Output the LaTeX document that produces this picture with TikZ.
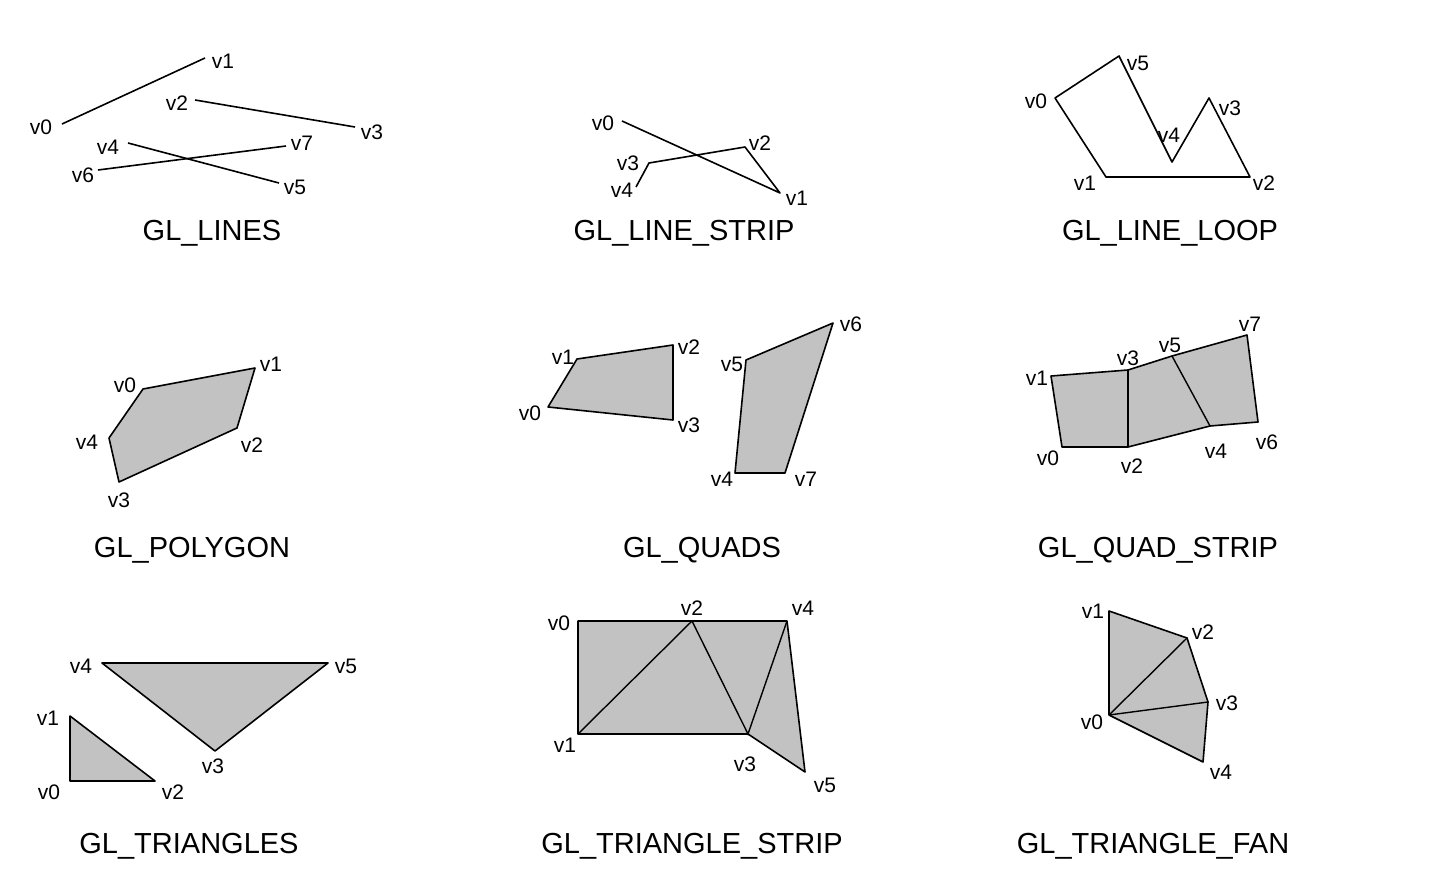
\documentclass[tikz,border=0pt]{standalone}
\usepackage{fontspec}
\setmainfont{Liberation Sans}
\begin{document}
\begin{tikzpicture}[x=1pt,y=-1pt,
  vlabel/.style={inner sep=0pt,font=\fontsize{21}{21}\selectfont},
  title/.style={inner sep=0pt,anchor=base,font=\fontsize{29}{29}\selectfont},
  edge/.style={draw=black,line width=1.6pt,line join=round},
  face/.style={fill=black!24,draw=black,line width=1.6pt,line join=round},
  inner/.style={draw=black,line width=1.4pt}]
\fill[white] (0,0) rectangle (1440,877);
\useasboundingbox (0,0) rectangle (1440,877);

% ---------- GL_LINES ----------
\coordinate (A0) at (62,124);  \coordinate (A1) at (205,58);
\coordinate (A2) at (195,100); \coordinate (A3) at (355,127);
\coordinate (A4) at (128,143); \coordinate (A5) at (279,183);
\coordinate (A6) at (98,170);  \coordinate (A7) at (286,146);
\draw[edge] (A0) -- (A1); \draw[edge] (A2) -- (A3);
\draw[edge] (A4) -- (A5); \draw[edge] (A6) -- (A7);
\node[vlabel] (lA0) at (41,127) {v0};
\node[vlabel] (lA1) at (223,61) {v1};
\node[vlabel] (lA2) at (177,103) {v2};
\node[vlabel] (lA3) at (372,132) {v3};
\node[vlabel] (lA4) at (108,147) {v4};
\node[vlabel] (lA5) at (295,187) {v5};
\node[vlabel] (lA6) at (83,175) {v6};
\node[vlabel] (lA7) at (302,143) {v7};
\node[title] (tA) at (212,241) {GL\_LINES};

% ---------- GL_LINE_STRIP ----------
\coordinate (B0) at (622,121); \coordinate (B1) at (780,193);
\coordinate (B2) at (745,147); \coordinate (B3) at (649,163);
\coordinate (B4) at (636,187);
\draw[edge] (B0) -- (B1) -- (B2) -- (B3) -- (B4);
\node[vlabel] (lB0) at (603,123) {v0};
\node[vlabel] (lB1) at (797,198) {v1};
\node[vlabel] (lB2) at (760,143) {v2};
\node[vlabel] (lB3) at (628,163) {v3};
\node[vlabel] (lB4) at (622,190) {v4};
\node[title] (tB) at (684,241) {GL\_LINE\_STRIP};

% ---------- GL_LINE_LOOP ----------
\coordinate (C0) at (1055,98);  \coordinate (C1) at (1106,177);
\coordinate (C2) at (1250,177); \coordinate (C3) at (1209,98);
\coordinate (C4) at (1172,162); \coordinate (C5) at (1119,56);
\draw[edge] (C0) -- (C1) -- (C2) -- (C3) -- (C4) -- (C5) -- cycle;
\node[vlabel] (lC0) at (1036,101) {v0};
\node[vlabel] (lC1) at (1085,183) {v1};
\node[vlabel] (lC2) at (1264,183) {v2};
\node[vlabel] (lC3) at (1230,108) {v3};
\node[vlabel] (lC4) at (1169,135) {v4};
\node[vlabel] (lC5) at (1138,63) {v5};
\node[title] (tC) at (1170,241) {GL\_LINE\_LOOP};

% ---------- GL_POLYGON ----------
\coordinate (D0) at (143,389); \coordinate (D1) at (255,368);
\coordinate (D2) at (237,428); \coordinate (D3) at (119,482);
\coordinate (D4) at (109,438);
\path[face] (D0) -- (D1) -- (D2) -- (D3) -- (D4) -- cycle;
\node[vlabel] (lD0) at (125,385) {v0};
\node[vlabel] (lD1) at (271,364) {v1};
\node[vlabel] (lD2) at (252,445) {v2};
\node[vlabel] (lD3) at (119,500) {v3};
\node[vlabel] (lD4) at (87,442) {v4};
\node[title] (tD) at (192,557) {GL\_POLYGON};

% ---------- GL_QUADS ----------
\coordinate (E0) at (548,407); \coordinate (E1) at (577,359);
\coordinate (E2) at (673,345); \coordinate (E3) at (673,420);
\coordinate (E4) at (735,473); \coordinate (E5) at (746,360);
\coordinate (E6) at (833,323); \coordinate (E7) at (785,473);
\path[face] (E0) -- (E1) -- (E2) -- (E3) -- cycle;
\path[face] (E4) -- (E5) -- (E6) -- (E7) -- cycle;
\node[vlabel] (lE0) at (530,413) {v0};
\node[vlabel] (lE1) at (563,357) {v1};
\node[vlabel] (lE2) at (689,347) {v2};
\node[vlabel] (lE3) at (689,425) {v3};
\node[vlabel] (lE4) at (722,479) {v4};
\node[vlabel] (lE5) at (732,364) {v5};
\node[vlabel] (lE6) at (851,324) {v6};
\node[vlabel] (lE7) at (806,479) {v7};
\node[title] (tE) at (702,557) {GL\_QUADS};

% ---------- GL_QUAD_STRIP ----------
\coordinate (F0) at (1062,447); \coordinate (F1) at (1051,376);
\coordinate (F2) at (1128,447); \coordinate (F3) at (1128,370);
\coordinate (F4) at (1210,426); \coordinate (F5) at (1172,356);
\coordinate (F6) at (1258,422); \coordinate (F7) at (1247,335);
\path[face] (F0) -- (F1) -- (F3) -- (F5) -- (F7) -- (F6) -- (F4) -- (F2) -- cycle;
\draw[inner] (F2) -- (F3);
\draw[inner] (F4) -- (F5);
\node[vlabel] (lF0) at (1048,458) {v0};
\node[vlabel] (lF1) at (1037,378) {v1};
\node[vlabel] (lF2) at (1132,466) {v2};
\node[vlabel] (lF3) at (1128,358) {v3};
\node[vlabel] (lF4) at (1216,451) {v4};
\node[vlabel] (lF5) at (1170,345) {v5};
\node[vlabel] (lF6) at (1267,442) {v6};
\node[vlabel] (lF7) at (1250,324) {v7};
\node[title] (tF) at (1158,557) {GL\_QUAD\_STRIP};

% ---------- GL_TRIANGLES ----------
\coordinate (G0) at (70,781);  \coordinate (G1) at (70,716);
\coordinate (G2) at (155,781); \coordinate (G3) at (215,751);
\coordinate (G4) at (102,663); \coordinate (G5) at (328,663);
\path[face] (G0) -- (G1) -- (G2) -- cycle;
\path[face] (G3) -- (G4) -- (G5) -- cycle;
\node[vlabel] (lG0) at (49,792) {v0};
\node[vlabel] (lG1) at (48,718) {v1};
\node[vlabel] (lG2) at (173,792) {v2};
\node[vlabel] (lG3) at (213,766) {v3};
\node[vlabel] (lG4) at (81,666) {v4};
\node[vlabel] (lG5) at (346,666) {v5};
\node[title] (tG) at (189,853) {GL\_TRIANGLES};

% ---------- GL_TRIANGLE_STRIP ----------
\coordinate (H0) at (578,621); \coordinate (H1) at (578,734);
\coordinate (H2) at (692,621); \coordinate (H3) at (748,734);
\coordinate (H4) at (787,621); \coordinate (H5) at (805,772);
\path[face] (H0) -- (H2) -- (H4) -- (H5) -- (H3) -- (H1) -- cycle;
\draw[inner] (H1) -- (H2) -- (H3) -- (H4);
\node[vlabel] (lH0) at (559,623) {v0};
\node[vlabel] (lH1) at (565,745) {v1};
\node[vlabel] (lH2) at (692,608) {v2};
\node[vlabel] (lH3) at (745,764) {v3};
\node[vlabel] (lH4) at (803,608) {v4};
\node[vlabel] (lH5) at (825,785) {v5};
\node[title] (tH) at (692,853) {GL\_TRIANGLE\_STRIP};

% ---------- GL_TRIANGLE_FAN ----------
\coordinate (K0) at (1109,715); \coordinate (K1) at (1109,611);
\coordinate (K2) at (1187,638); \coordinate (K3) at (1208,702);
\coordinate (K4) at (1203,762);
\path[face] (K0) -- (K1) -- (K2) -- (K3) -- (K4) -- cycle;
\draw[inner] (K0) -- (K2);
\draw[inner] (K0) -- (K3);
\node[vlabel] (lK0) at (1092,722) {v0};
\node[vlabel] (lK1) at (1093,611) {v1};
\node[vlabel] (lK2) at (1203,632) {v2};
\node[vlabel] (lK3) at (1227,703) {v3};
\node[vlabel] (lK4) at (1221,772) {v4};
\node[title] (tK) at (1153,853) {GL\_TRIANGLE\_FAN};
\end{tikzpicture}
\end{document}
